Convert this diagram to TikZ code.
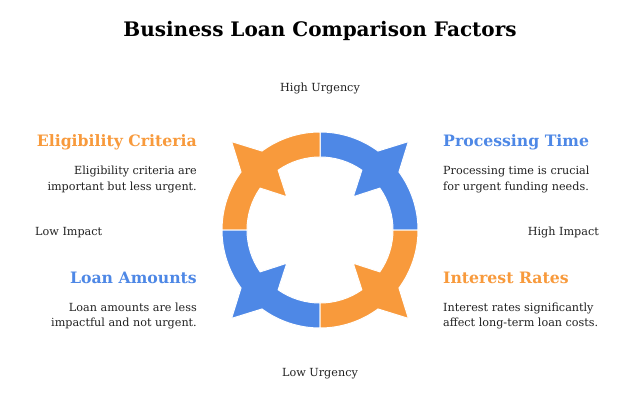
\documentclass[tikz,border=0pt]{standalone}
\usepackage{fontspec}
\setmainfont{DejaVu Serif}
\usetikzlibrary{calc}
\definecolor{cblue}{HTML}{4E88E6}
\definecolor{corange}{HTML}{F89A3C}
\definecolor{ctext}{HTML}{222222}
\tikzset{
  ttl/.style={font=\fontsize{20}{24}\selectfont\bfseries, text=black, inner sep=0pt},
  head/.style={font=\fontsize{15.7}{19}\selectfont\bfseries, inner sep=0pt},
  desc/.style={font=\fontsize{11.2}{14}\selectfont, text=ctext, inner sep=0pt},
  axislbl/.style={font=\fontsize{11.2}{14}\selectfont, text=ctext, inner sep=0pt},
  ringpart/.style={draw=white, line width=1pt}
}
\begin{document}
\begin{tikzpicture}[x=1pt,y=-1pt]
\useasboundingbox[fill=white] (0,0) rectangle (640,401);
\coordinate (c) at (320,230);
\foreach \a/\col in {270/cblue,180/corange,90/cblue,0/corange}{
  \pgfmathsetmacro\ma{\a+45}
  \fill[\col, ringpart]
    ($(c)+(\a:98)$) arc[start angle=\a, end angle=\ma-8.7, radius=98]
    -- ($(c)+(\ma:125)$) -- ($(c)+(\ma+8.7:98)$)
    arc[start angle=\ma+8.7, end angle=\a+90, radius=98]
    -- ($(c)+(\a+90:73)$)
    arc[start angle=\a+90, end angle=\ma+10, radius=73]
    -- ($(c)+(\ma:47)$) -- ($(c)+(\ma-10:73)$)
    arc[start angle=\ma-10, end angle=\a, radius=73] -- cycle;
}
\node[ttl, anchor=base] (title) at (320,37) {Business Loan Comparison Factors};
\node[axislbl, anchor=base] (hu) at (320,92) {High Urgency};
\node[axislbl, anchor=base] (lu) at (320,376) {Low Urgency};
\node[axislbl, anchor=base west] (li) at (35,235) {Low Impact};
\node[axislbl, anchor=base east] (hi) at (599,235) {High Impact};
% top left
\node[head, text=corange, anchor=base east] (eh) at (197,147) {Eligibility Criteria};
\node[desc, anchor=base east] (ed1) at (197,175) {Eligibility criteria are};
\node[desc, anchor=base east] (ed2) at (197,190) {important but less urgent.};
% top right
\node[head, text=cblue, anchor=base west] (ph) at (443,147) {Processing Time};
\node[desc, anchor=base west] (pd1) at (443,175) {Processing time is crucial};
\node[desc, anchor=base west] (pd2) at (443,190) {for urgent funding needs.};
% bottom left
\node[head, text=cblue, anchor=base east] (lh) at (197,283) {Loan Amounts};
\node[desc, anchor=base east] (ld1) at (197,311) {Loan amounts are less};
\node[desc, anchor=base east] (ld2) at (197,326) {impactful and not urgent.};
% bottom right
\node[head, text=corange, anchor=base west] (ih) at (443,283) {Interest Rates};
\node[desc, anchor=base west] (id1) at (443,311) {Interest rates significantly};
\node[desc, anchor=base west] (id2) at (443,326) {affect long-term loan costs.};
\end{tikzpicture}
\end{document}
